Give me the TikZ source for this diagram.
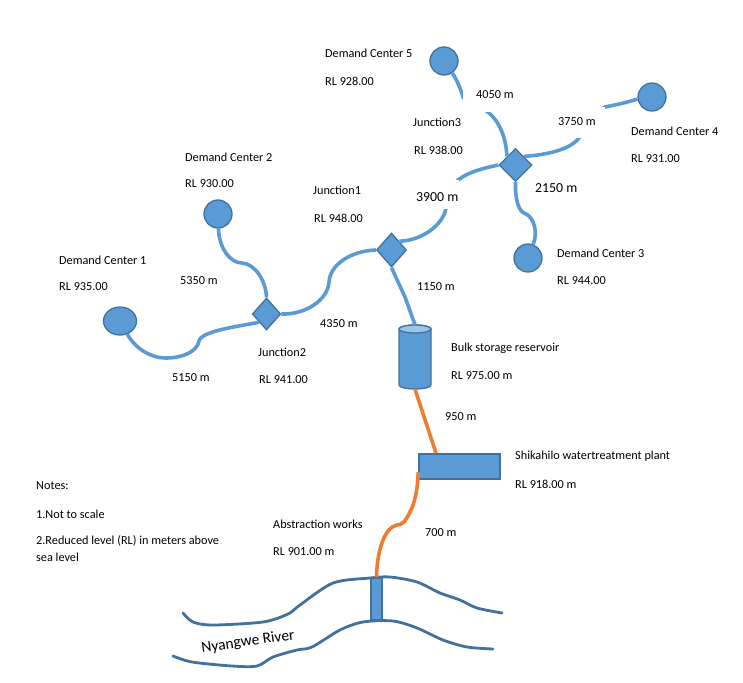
\documentclass[tikz,border=0pt]{standalone}
\usepackage{fontspec}
\setmainfont{Carlito}
\usetikzlibrary{shapes.geometric}
\definecolor{pipeblue}{HTML}{5B9BD5}
\definecolor{edgeblue}{HTML}{41719C}
\definecolor{riverblue}{HTML}{41719C}
\definecolor{pipeorange}{HTML}{ED7D31}
\definecolor{toplight}{HTML}{9DC3E6}
\tikzset{
  lbl/.style={anchor=west,inner sep=0pt,font=\fontsize{12.25}{14}\selectfont,text=black},
  biglbl/.style={lbl,font=\fontsize{13.8}{16}\selectfont},
  center node/.style={draw=edgeblue,fill=pipeblue,line width=1.3pt,circle,inner sep=0pt,minimum size=28pt},
  junction node/.style={draw=edgeblue,fill=pipeblue,line width=1.3pt,diamond,inner sep=0pt,minimum width=30pt,minimum height=34pt},
  pipe/.style={draw=pipeblue,line width=3.6pt},
  feed/.style={draw=pipeorange,line width=3.6pt},
  bank/.style={draw=riverblue,line width=2.8pt,line cap=round,line join=round},
  mask/.style={fill=white,draw=none},
  block/.style={draw=edgeblue,fill=pipeblue,line width=1.8pt,rectangle,inner sep=0pt}
}
\begin{document}
\begin{tikzpicture}[x=1pt,y=-1pt]
\useasboundingbox (0,0) rectangle (743,682);
% river banks
\draw[bank] plot[smooth,tension=0.5] coordinates {(183,613) (193,622) (213,625) (263,622) (288,614) (300,605) (333,583) (370,578) (390,577) (417,582) (440,593) (460,600) (477,608) (502,613)};
\draw[bank] plot[smooth,tension=0.5] coordinates {(173,656) (192,662) (232,666) (257,666) (273,657) (297,650) (312,647) (340,630) (363,622) (393,621) (417,628) (443,640) (467,647) (493,649)};
% nodes
\node[center node,ellipse,minimum width=33pt,minimum height=28pt] (dc1) at (120,321) {};
\node[center node] (dc2) at (218,214) {};
\node[center node] (dc3) at (528,258) {};
\node[center node] (dc4) at (652,97) {};
\node[center node] (dc5) at (444,61) {};
\node[junction node] (j1) at (391.5,250) {};
\node[junction node,minimum width=28.5pt,minimum height=32pt] (j2) at (266.5,314) {};
\node[junction node,minimum width=33pt,minimum height=33pt] (j3) at (515.5,165) {};
\node[rectangle,inner sep=0pt,minimum width=32pt,minimum height=64pt] (res) at (415,357) {};
\filldraw[draw=edgeblue,fill=pipeblue,line width=1.3pt] (399,329) -- (399,385) arc[start angle=180,end angle=360,x radius=16,y radius=-4] -- (431,329) arc[start angle=0,end angle=180,x radius=16,y radius=-4] -- cycle;
\filldraw[draw=edgeblue,fill=toplight,line width=1.3pt] (415,329) ellipse[x radius=16,y radius=4];
\node[block,minimum width=81pt,minimum height=25pt] (plant) at (459.5,466.5) {};
\node[block,minimum width=11pt,minimum height=42pt] (abs) at (376.5,599) {};
% blue pipes
\draw[pipe] (dc5) .. controls (457,80) and (461,90) .. (463,97) .. controls (468,104) and (480,106) .. (488,112) .. controls (500,122) and (506,138) .. (j3.north west);
\draw[pipe] (j3.north east) .. controls (545,155) and (570,150) .. (579,138) .. controls (585,125) and (595,112) .. (605,107) .. controls (615,105) and (625,103) .. (dc4.188);
\draw[pipe] (j3.south) .. controls (515,198) and (518,212) .. (526,214) .. controls (534,218) and (538,232) .. (dc3);
\draw[pipe] (j1.north east) .. controls (420,241) and (443,226) .. (446,208) .. controls (448,195) and (452,186) .. (458,180) .. controls (470,171) and (485,168) .. (j3.west);
\draw[pipe] (j2.east) .. controls (305,315) and (328,300) .. (329,282) .. controls (330,265) and (350,251) .. (j1.west);
\draw[pipe] (dc2) .. controls (219,248) and (230,263) .. (242,263) .. controls (256,264) and (266,282) .. (j2.north);
\draw[pipe] (dc1) .. controls (135,348) and (150,358) .. (166,358) .. controls (182,358) and (197,352) .. (199,341) .. controls (201,331) and (240,326) .. (j2.south west);
\draw[pipe] (j1.south) -- (405,297) -- (res.north);
% orange pipes
\draw[feed] (res.south) -- (plant.north -| 436,454);
\draw[feed] (plant.west |- 0,472) .. controls (418,490) and (414,505) .. (410,512) .. controls (405,522) and (402,525) .. (397,525) .. controls (385,527) and (377,550) .. (abs.north);
% label masks
\fill[mask] (463,80) rectangle (520,112);
\fill[mask] (552,107) rectangle (605,138);
\fill[mask] (415,180) rectangle (459,209);
% labels
\node[lbl] (t1) at (325,53) {Demand Center 5};
\node[lbl] (t2) at (325,81) {RL 928.00};
\node[lbl] (t3) at (631,131) {Demand Center 4};
\node[lbl] (t4) at (631,159) {RL 931.00};
\node[lbl] (t5) at (413,122) {Junction3};
\node[lbl] (t6) at (414,150) {RL 938.00};
\node[lbl] (t7) at (476,95) {4050 m};
\node[lbl] (t8) at (558,122) {3750 m};
\node[biglbl] (t9) at (535,188) {2150 m};
\node[biglbl] (t10) at (416,197) {3900 m};
\node[lbl] (t11) at (417,287) {1150 m};
\node[lbl] (t12) at (320,324) {4350 m};
\node[lbl] (t13) at (557,253) {Demand Center 3};
\node[lbl] (t14) at (557,281) {RL 944.00};
\node[lbl] (t15) at (185,157) {Demand Center 2};
\node[lbl] (t16) at (185,184) {RL 930.00};
\node[lbl] (t17) at (313,190) {Junction1};
\node[lbl] (t18) at (314,218) {RL 948.00};
\node[lbl] (t19) at (59,260) {Demand Center 1};
\node[lbl] (t20) at (59,287) {RL 935.00};
\node[lbl] (t21) at (180,281) {5350 m};
\node[lbl] (t22) at (172,378) {5150 m};
\node[lbl] (t23) at (258,352) {Junction2};
\node[lbl] (t24) at (259,380) {RL 941.00};
\node[lbl] (t25) at (451,348) {Bulk storage reservoir};
\node[lbl] (t26) at (451,376) {RL 975.00 m};
\node[lbl] (t27) at (445,417) {950 m};
\node[lbl] (t28) at (515,456) {Shikahilo watertreatment plant};
\node[lbl] (t29) at (515,484) {RL 918.00 m};
\node[lbl] (t30) at (36,486) {Notes:};
\node[lbl] (t31) at (36,514) {1.Not to scale};
\node[lbl] (t32) at (36,541) {2.Reduced level (RL) in meters above};
\node[lbl] (t33) at (36,557) {sea level};
\node[lbl] (t34) at (273,524) {Abstraction works};
\node[lbl] (t35) at (273,552) {RL 901.00 m};
\node[lbl] (t36) at (425,533) {700 m};
\node[lbl,anchor=center,rotate=8,font=\fontsize{15.5}{18}\selectfont] (t37) at (248,642) {Nyangwe River};
\end{tikzpicture}
\end{document}
